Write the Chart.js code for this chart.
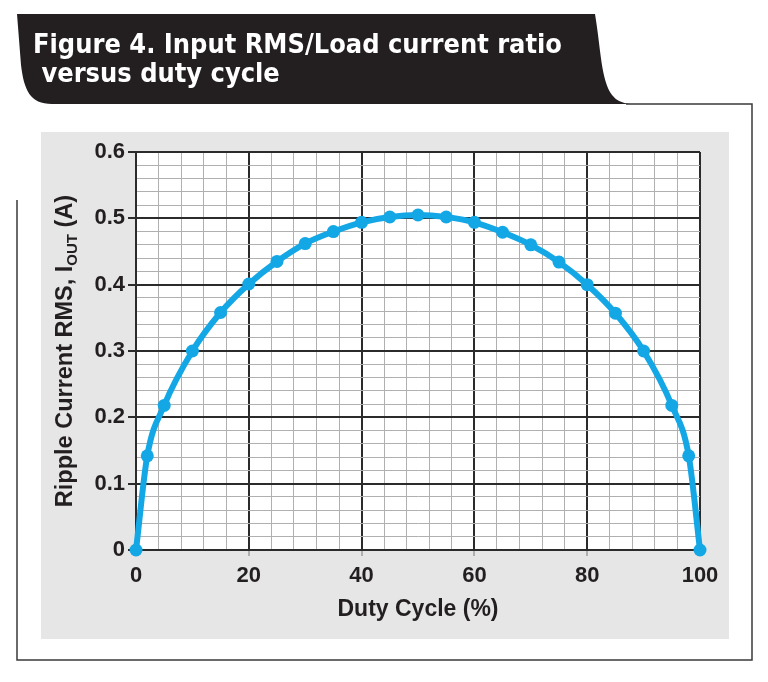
<!DOCTYPE html>
<html>
<head>
<meta charset="utf-8">
<title>Input RMS/Load current ratio versus duty cycle</title>
<script src="https://cdn.jsdelivr.net/npm/chart.js@4.4.1/dist/chart.umd.min.js"></script>
<style>
  body { margin: 0; background: #fff; }
  #wrap { position: relative; width: 768px; height: 682px; }
  #figTitle {
    position: absolute; left: 33px; top: 29px;
    color: #fff; font: bold 27px "Liberation Sans Narrow", "DejaVu Sans Condensed", "Liberation Sans", sans-serif;
    line-height: 29px; white-space: pre; transform-origin: left top;
  }
</style>
</head>
<body>
<div id="wrap">
  <canvas id="rippleChart" width="768" height="682"></canvas>
  <div id="figTitle"><span id="titleLine1">Figure 4. Input RMS/Load current ratio</span>
<span> versus duty cycle</span></div>
</div>
<script>
// Duty cycle (%) and ripple current RMS (A)
const dutyCycle = [0, 2, 5, 10, 15, 20, 25, 30, 35, 40, 45, 50, 55, 60, 65, 70, 75, 80, 85, 90, 95, 98, 100];
const rippleRms = [0, 0.142, 0.218, 0.300, 0.358, 0.401, 0.435, 0.462, 0.480, 0.494, 0.502, 0.505,
                   0.502, 0.494, 0.479, 0.460, 0.434, 0.400, 0.357, 0.300, 0.218, 0.142, 0];

// labelled ticks
const xTickLabels = [0, 20, 40, 60, 80, 100];
const yTickLabels = [0, 0.1, 0.2, 0.3, 0.4, 0.5, 0.6];

const ink = '#231f20';
const major = '#2b2b2b';
const minor = '#b0b0b0';

function isXMajor(v) { return xTickLabels.some(t => Math.abs(t - v) < 1e-6); }
function isYMajor(v) { return yTickLabels.some(t => Math.abs(t - v) < 1e-6); }

// squeeze the title to the width it has in the figure
const line1 = document.getElementById('titleLine1');
const w = line1.getBoundingClientRect().width;
document.getElementById('figTitle').style.transform = 'scaleX(' + (529 / w) + ')';

const decor = {
    id: 'decor',
    beforeDraw(chart) {
        const ctx = chart.ctx;
        const a = chart.chartArea;
        ctx.save();
        ctx.fillStyle = '#fff';
        ctx.fillRect(0, 0, chart.width, chart.height);

        // black title banner
        ctx.fillStyle = ink;
        ctx.beginPath();
        ctx.moveTo(17, 14);
        ctx.lineTo(595, 14);
        ctx.bezierCurveTo(601, 50, 601, 80, 612, 95);
        ctx.quadraticCurveTo(618, 103, 630, 104);
        ctx.lineTo(52, 104);
        ctx.bezierCurveTo(30, 104, 24, 90, 21, 65);
        ctx.closePath();
        ctx.fill();

        // frame
        ctx.strokeStyle = '#3a3a3a';
        ctx.lineWidth = 1.5;
        ctx.beginPath();
        ctx.moveTo(17, 200);
        ctx.lineTo(17, 660);
        ctx.lineTo(752, 660);
        ctx.lineTo(752, 104);
        ctx.lineTo(626, 104);
        ctx.stroke();

        // grey panel and white plot
        ctx.fillStyle = '#e6e6e6';
        ctx.fillRect(41, 132, 688, 507);
        ctx.fillStyle = '#fff';
        ctx.fillRect(a.left, a.top, a.right - a.left, a.bottom - a.top);
        ctx.restore();
    },
    afterDraw(chart) {
        // y axis title with subscript
        const ctx = chart.ctx;
        const mid = (chart.chartArea.top + chart.chartArea.bottom) / 2;
        const big = 'bold 23.5px "Liberation Sans", Arial, sans-serif';
        const small = 'bold 15px "Liberation Sans", Arial, sans-serif';
        const p1 = 'Ripple Current RMS, I', p2 = 'OUT', p3 = ' (A)';
        ctx.save();
        ctx.font = big;
        const w1 = ctx.measureText(p1).width, w3 = ctx.measureText(p3).width;
        ctx.font = small;
        const w2 = ctx.measureText(p2).width;
        ctx.translate(72, mid);
        ctx.rotate(-Math.PI / 2);
        ctx.fillStyle = ink;
        ctx.textBaseline = 'alphabetic';
        let x = -(w1 + w2 + w3) / 2;
        ctx.font = big;
        ctx.fillText(p1, x, 0);
        x += w1;
        ctx.font = small;
        ctx.fillText(p2, x, 5);
        x += w2;
        ctx.font = big;
        ctx.fillText(p3, x, 0);
        ctx.restore();
    }
};

const tickFont = { family: '"Liberation Sans", Arial, sans-serif', size: 22, weight: 'bold' };

new Chart(document.getElementById('rippleChart'), {
    type: 'line',
    data: {
        datasets: [{
            data: dutyCycle.map((d, i) => ({ x: d, y: rippleRms[i] })),
            borderColor: '#13a7e6',
            backgroundColor: '#13a7e6',
            borderWidth: 6,
            pointRadius: 6.5,
            pointBorderWidth: 0,
            cubicInterpolationMode: 'monotone',
            clip: false
        }]
    },
    options: {
        responsive: false,
        animation: false,
        layout: { padding: { top: 152, right: 68, left: 0, bottom: 0 } },
        plugins: { legend: { display: false }, tooltip: { enabled: false } },
        scales: {
            x: {
                type: 'linear',
                min: 0,
                max: 100,
                afterFit(scale) { scale.height = 132; },
                ticks: {
                    stepSize: 4,
                    autoSkip: false,
                    maxRotation: 0,
                    padding: 7,
                    color: ink,
                    font: tickFont,
                    callback: v => isXMajor(v) ? String(Math.round(v)) : ''
                },
                grid: {
                    color: c => isXMajor(c.tick.value) ? major : minor,
                    lineWidth: c => isXMajor(c.tick.value) ? 2 : 1,
                    tickColor: c => isXMajor(c.tick.value) ? '#b0b0b0' : 'rgba(0,0,0,0)',
                    tickLength: 6
                },
                border: { display: true, color: major, width: 2 },
                title: {
                    display: true,
                    text: 'Duty Cycle (%)',
                    color: ink,
                    font: { family: '"Liberation Sans", Arial, sans-serif', size: 23, weight: 'bold' },
                    padding: { top: 0, bottom: 59 }
                }
            },
            y: {
                min: 0,
                max: 0.6,
                afterFit(scale) { scale.width = 136; },
                ticks: {
                    stepSize: 0.02,
                    autoSkip: false,
                    padding: 3,
                    color: ink,
                    font: tickFont,
                    callback: v => isYMajor(v) ? String(Math.round(v * 10) / 10) : ''
                },
                grid: {
                    color: c => isYMajor(c.tick.value) ? major : minor,
                    lineWidth: c => isYMajor(c.tick.value) ? 2 : 1,
                    tickColor: c => isYMajor(c.tick.value) ? major : 'rgba(0,0,0,0)',
                    tickLength: 8
                },
                border: { display: true, color: major, width: 2 }
            }
        }
    },
    plugins: [decor]
});
</script>
</body>
</html>
